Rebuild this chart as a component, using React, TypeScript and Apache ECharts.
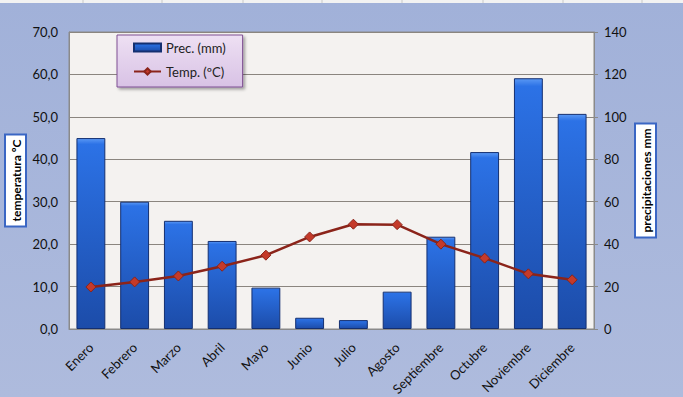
import React, { useEffect, useRef } from "react";
import * as echarts from "echarts";

const months = ["Enero", "Febrero", "Marzo", "Abril", "Mayo", "Junio", "Julio", "Agosto", "Septiembre", "Octubre", "Noviembre", "Diciembre"];
const precipitation = [90, 60, 51, 41.5, 19.5, 5.3, 4.2, 17.6, 43.5, 83.4, 118.2, 101.4];
const temperature = [9.9, 11.1, 12.5, 14.8, 17.4, 21.7, 24.7, 24.6, 20.0, 16.7, 13.0, 11.6];

const FONT = "Lato, 'Open Sans', sans-serif";

export default function App() {
  const ref = useRef<HTMLDivElement>(null);
  useEffect(() => {
    if (!ref.current) return;
    const chart = echarts.init(ref.current, null, { renderer: "svg" });
    const stripLines = [83, 162, 243, 322, 402, 483, 563, 642].map((x) => ({
      type: "line",
      shape: { x1: x, y1: 0, x2: x, y2: 3 },
      style: { stroke: "#c8c8c8", lineWidth: 1 },
      silent: true,
    }));
    const axisNameStyle = {
      fontFamily: FONT,
      fontSize: 12,
      fontWeight: "bold",
      color: "#000",
      backgroundColor: "#fff",
      borderColor: "#3A66C4",
      borderWidth: 2,
      padding: [4, 4, 3, 4],
    };
    chart.setOption({
      animation: false,
      backgroundColor: new echarts.graphic.LinearGradient(0, 0, 0, 1, [
        { offset: 0, color: "#A1B1D9" },
        { offset: 1, color: "#AEBBDD" },
      ]),
      graphic: [
        { type: "rect", shape: { x: 0, y: 0, width: 683, height: 3 }, style: { fill: "#F2F2F2" }, silent: true },
        ...stripLines,
      ],
      grid: {
        left: 69,
        right: 89,
        top: 32,
        bottom: 68,
        outerBoundsMode: "none",
        containLabel: false,
        show: true,
        backgroundColor: "#F4F2F0",
        borderColor: "#8a8a8a",
        borderWidth: 1,
      },
      legend: {
        orient: "vertical",
        left: 117,
        top: 35,
        padding: [6, 17, 9, 16],
        itemWidth: 27,
        itemHeight: 8,
        itemGap: 11,
        backgroundColor: new echarts.graphic.LinearGradient(0, 0, 0, 1, [
          { offset: 0, color: "#EEE0F3" },
          { offset: 1, color: "#D8C2E5" },
        ]),
        borderColor: "#7E4F93",
        borderWidth: 1,
        shadowColor: "rgba(0,0,0,0.35)",
        shadowBlur: 3,
        shadowOffsetX: 2,
        shadowOffsetY: 2,
        textStyle: { fontFamily: FONT, fontSize: 13, color: "#222" },
        data: [
          { name: "Prec. (mm)", icon: "rect" },
          { name: "Temp. (ºC)" },
        ],
      },
      xAxis: {
        type: "category",
        data: months,
        axisTick: { show: false },
        axisLine: { lineStyle: { color: "#8a8a8a" } },
        axisLabel: { rotate: 45, margin: 16, fontFamily: FONT, fontSize: 13, color: "#111", interval: 0 },
      },
      yAxis: [
        {
          type: "value",
          min: 0,
          max: 70,
          interval: 10,
          position: "left",
          name: "temperatura ºC",
          nameLocation: "middle",
          nameRotate: 90,
          nameGap: 44,
          nameMoveOverlap: false,
          nameTextStyle: axisNameStyle,
          axisLine: { show: true, lineStyle: { color: "#8a8a8a" } },
          axisTick: { show: false },
          splitLine: { lineStyle: { color: "#8a857f" } },
          axisLabel: {
            fontFamily: FONT,
            fontSize: 13,
            color: "#111",
            margin: 11,
            formatter: (v: number) => v.toFixed(1).replace(".", ","),
          },
        },
        {
          type: "value",
          min: 0,
          max: 140,
          interval: 20,
          position: "right",
          name: "precipitaciones mm",
          nameLocation: "middle",
          nameRotate: 90,
          nameGap: 42,
          nameMoveOverlap: false,
          nameTextStyle: axisNameStyle,
          axisLine: { show: true, lineStyle: { color: "#8a8a8a" } },
          axisTick: { show: true, length: 4, inside: false, lineStyle: { color: "#8a8a8a" } },
          splitLine: { show: false },
          axisLabel: { fontFamily: FONT, fontSize: 13, color: "#111", margin: 10 },
        },
      ],
      series: [
        {
          name: "Prec. (mm)",
          type: "bar",
          yAxisIndex: 1,
          data: precipitation,
          barWidth: "66%",
          itemStyle: {
            color: new echarts.graphic.LinearGradient(0, 0, 0, 1, [
              { offset: 0, color: "#5A98F4" },
              { offset: 0.03, color: "#2C72E6" },
              { offset: 1, color: "#1C4CA9" },
            ]),
            borderColor: "#142F70",
            borderWidth: 1,
          },
        },
        {
          name: "Temp. (ºC)",
          type: "line",
          yAxisIndex: 0,
          data: temperature,
          symbol: "diamond",
          symbolSize: 10,
          lineStyle: { color: "#8B241A", width: 2.5 },
          itemStyle: { color: "#C43A2A", borderColor: "#8B241A", borderWidth: 1 },
        },
      ],
    });
    return () => chart.dispose();
  }, []);
  return <div ref={ref} style={{ width: 683, height: 397, position: "fixed", left: 0, top: 0 }} />;
}
